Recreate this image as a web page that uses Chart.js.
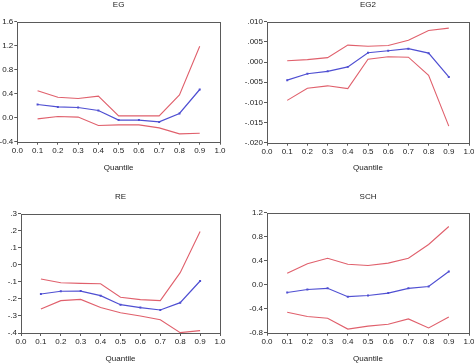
<!DOCTYPE html>
<html>
<head>
<meta charset="utf-8">
<script src="https://cdn.jsdelivr.net/npm/chart.js@4/dist/chart.umd.min.js"></script>
<style>
  html, body { margin: 0; padding: 0; background: #ffffff; }
  #wrap { position: relative; width: 474px; height: 364px; overflow: hidden; background: #fff; }
  .pane { position: absolute; width: 237px; height: 182px; }
  .pane canvas { width: 237px !important; height: 182px !important; }
</style>
</head>
<body>
<div id="wrap">
  <div class="pane" style="left:0;top:0"><canvas id="c0" width="237" height="182"></canvas></div>
  <div class="pane" style="left:237px;top:0"><canvas id="c1" width="237" height="182"></canvas></div>
  <div class="pane" style="left:0;top:182px"><canvas id="c2" width="237" height="182"></canvas></div>
  <div class="pane" style="left:237px;top:182px"><canvas id="c3" width="237" height="182"></canvas></div>
</div>
<script>
// ---- data ----
const quantiles = [0.1, 0.2, 0.3, 0.4, 0.5, 0.6, 0.7, 0.8, 0.9];
const xTicks = [0.0, 0.1, 0.2, 0.3, 0.4, 0.5, 0.6, 0.7, 0.8, 0.9, 1.0];
const panelTitles = ["EG", "EG2", "RE", "SCH"];
const xTitle = "Quantile";

const egUpper = [0.45, 0.34, 0.32, 0.36, 0.03, 0.03, 0.03, 0.38, 1.19];
const egCoef  = [0.22, 0.18, 0.17, 0.12, -0.04, -0.04, -0.07, 0.07, 0.47];
const egLower = [-0.02, 0.02, 0.01, -0.13, -0.12, -0.12, -0.17, -0.27, -0.26];

const eg2Upper = [0.0003, 0.0006, 0.0011, 0.0042, 0.0039, 0.0041, 0.0054, 0.0078, 0.0084];
const eg2Coef  = [-0.0045, -0.0029, -0.0023, -0.0012, 0.0023, 0.0028, 0.0033, 0.0022, -0.0037];
const eg2Lower = [-0.0095, -0.0065, -0.0059, -0.0066, 0.0007, 0.0013, 0.0012, -0.0033, -0.0159];

const reUpper = [-0.083, -0.105, -0.109, -0.111, -0.190, -0.204, -0.210, -0.046, 0.196];
const reCoef  = [-0.171, -0.155, -0.154, -0.181, -0.234, -0.251, -0.265, -0.222, -0.095];
const reLower = [-0.259, -0.210, -0.203, -0.250, -0.281, -0.300, -0.322, -0.398, -0.386];

const schUpper = [0.19, 0.35, 0.44, 0.34, 0.32, 0.36, 0.44, 0.67, 0.97];
const schCoef  = [-0.13, -0.08, -0.06, -0.20, -0.18, -0.14, -0.06, -0.03, 0.22];
const schLower = [-0.46, -0.53, -0.56, -0.74, -0.69, -0.66, -0.57, -0.72, -0.54];

const yMin  = [-0.4, -0.020, -0.4, -0.8];
const yMax  = [1.6, 0.010, 0.3, 1.2];
const yStep = [0.4, 0.005, 0.1, 0.4];

// ---- styling / layout ----
const FONT = "'Liberation Sans', Arial, Helvetica, sans-serif";
const RED = "#e0606c";
const BLUE = "#4f4fd2";
const FRAME = "#5a5a5a";
const TEXT = "#222222";

// plot-area geometry inside each 237x182 canvas
const geom = [
  {L: 17.3, R: 220, T: 21.7, B: 141.7, tc: 5,  qc: 168},
  {L: 30,   R: 232, T: 21.7, B: 142.7, tc: 5,  qc: 168},
  {L: 21,   R: 220, T: 31.7, B: 151,   tc: 15, qc: 177.5},
  {L: 30,   R: 232, T: 30.7, B: 150.7, tc: 15, qc: 177.5}
];

function fmt1(v) { return (Math.round(v * 10) / 10).toFixed(1); }
function fmtNoLead(decimals) {
  return function (v) {
    const p = Math.pow(10, decimals);
    let s = (Math.round(v * p) / p).toFixed(decimals);
    if (/^-0\.0+$/.test(s)) s = s.slice(1);
    return s.replace(/^(-?)0\./, "$1.");
  };
}
const yFmt = [fmt1, fmtNoLead(3), fmtNoLead(1), fmt1];

const frame = {
  id: 'frame',
  afterDraw(chart) {
    const a = chart.chartArea, ctx = chart.ctx;
    ctx.save();
    ctx.strokeStyle = FRAME;
    ctx.lineWidth = 1;
    ctx.strokeRect(Math.round(a.left) + 0.5, Math.round(a.top) + 0.5,
                   Math.round(a.right - a.left), Math.round(a.bottom - a.top));
    ctx.restore();
  }
};

// panel title centred over the plot area
const panelTitle = {
  id: 'panelTitle',
  afterDraw(chart, args, opts) {
    const a = chart.chartArea, ctx = chart.ctx;
    ctx.save();
    ctx.fillStyle = TEXT;
    ctx.font = "8px " + FONT;
    ctx.textAlign = 'center';
    ctx.textBaseline = 'middle';
    ctx.fillText(opts.text, (a.left + a.right) / 2, opts.y);
    ctx.restore();
  }
};

const panels = [
  [egUpper, egCoef, egLower],
  [eg2Upper, eg2Coef, eg2Lower],
  [reUpper, reCoef, reLower],
  [schUpper, schCoef, schLower]
];

function pts(arr) { return quantiles.map((q, i) => ({x: q, y: arr[i]})); }

panels.forEach((series, k) => {
  const g = geom[k];
  const W = 237, H = 182;
  new Chart(document.getElementById('c' + k), {
    type: 'line',
    data: {
      datasets: [
        {data: pts(series[0]), borderColor: RED, borderWidth: 1.1, pointRadius: 0, tension: 0, fill: false},
        {data: pts(series[1]), borderColor: BLUE, borderWidth: 1.2, pointRadius: 1.4, pointStyle: 'rect',
         pointBackgroundColor: BLUE, pointBorderColor: BLUE, pointBorderWidth: 0, tension: 0, fill: false},
        {data: pts(series[2]), borderColor: RED, borderWidth: 1.1, pointRadius: 0, tension: 0, fill: false}
      ]
    },
    options: {
      responsive: false,
      animation: false,
      devicePixelRatio: 1,
      layout: {padding: {left: 0, top: g.T, bottom: 0, right: W - g.R}},
      plugins: {
        legend: {display: false},
        tooltip: {enabled: false},
        title: {display: false},
        panelTitle: {text: panelTitles[k], y: g.tc}
      },
      scales: {
        x: {
          type: 'linear', min: 0, max: 1,
          afterBuildTicks(scale) { scale.ticks = xTicks.map(v => ({value: v})); },
          afterFit(scale) { scale.height = H - g.B; scale.paddingLeft = 0; scale.paddingRight = 0; },
          ticks: {color: TEXT, font: {family: FONT, size: 8}, padding: 1, maxRotation: 0, autoSkip: false,
                  callback: v => fmt1(v)},
          grid: {drawOnChartArea: false, drawTicks: true, tickLength: 3, color: FRAME},
          border: {display: false},
          title: {display: true, text: xTitle, color: TEXT, font: {family: FONT, size: 8},
                  padding: {top: 0, bottom: Math.max(0, H - g.qc - 4.8)}}
        },
        y: {
          min: yMin[k], max: yMax[k],
          ticks: {stepSize: yStep[k], color: TEXT, font: {family: FONT, size: 8}, padding: 1,
                  callback: v => yFmt[k](v)},
          afterFit(scale) { scale.width = g.L; scale.paddingTop = 0; scale.paddingBottom = 0; },
          grid: {drawOnChartArea: false, drawTicks: true, tickLength: 3, color: FRAME},
          border: {display: false}
        }
      }
    },
    plugins: [frame, panelTitle]
  });
});
</script>
</body>
</html>
